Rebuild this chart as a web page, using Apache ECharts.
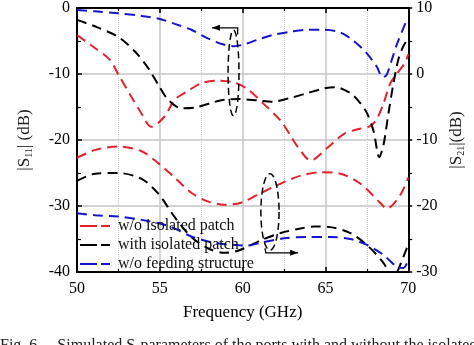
<!DOCTYPE html>
<html><head><meta charset="utf-8">
<script src="https://cdn.jsdelivr.net/npm/echarts@6/dist/echarts.min.js"></script>
<style>html,body{margin:0;padding:0;background:#fff}#c{width:474px;height:345px}</style>
</head><body><div id="c"></div>
<script>
// ---- data ----
const seriesNames = ['w/o isolated patch', 'with isolated patch', 'w/o feeding structure'];
const xTicks = [50, 55, 60, 65, 70];

// |S11| (left axis, dB)
const s11RedF = [50, 51, 52, 52.5, 53.2, 53.8, 54.5, 55.3, 55.9, 56.8, 57.5, 58.5, 59.5, 60.3, 61.3, 62.3, 62.9, 63.4, 64.1, 65.1, 66.1, 66.9, 67.7, 68.1, 68.5, 68.9, 69.3, 69.8, 70];
const s11RedV = [-4.1, -5.9, -7.9, -10.1, -13.1, -15.6, -18, -16.4, -13.9, -12.4, -11.4, -11, -11.3, -12.3, -14.6, -17.1, -19.4, -21.3, -23.1, -21.2, -19.1, -18.4, -17.9, -16.8, -14.5, -11.5, -10, -8.3, -7];
const s11BlackF = [50, 51.2, 52.5, 53.5, 54.3, 54.9, 55.5, 56.3, 57.1, 58.2, 58.9, 59.8, 60.9, 61.8, 62.9, 63.9, 64.9, 65.6, 66.5, 67.1, 67.5, 67.9, 68.25, 68.5, 68.8, 69.1, 69.4, 69.7, 70];
const s11BlackV = [-1.8, -2.9, -4.4, -6.6, -9.1, -11.6, -13.9, -15.2, -15.1, -14.3, -13.9, -13.8, -14, -14.2, -13.6, -12.9, -12.2, -12, -12.9, -14.4, -15.9, -18.6, -22.6, -20.8, -16, -11.5, -7.8, -5.8, -4.6];
const s11BlueF = [50, 51.1, 52.5, 53.9, 54.9, 55.9, 56.9, 57.9, 58.8, 59.5, 60.1, 60.9, 61.8, 62.9, 63.9, 64.9, 65.9, 66.6, 67.4, 68.1, 68.45, 68.7, 69, 69.3, 69.9, 70];
const s11BlueV = [-0.3, -0.5, -0.8, -1.2, -1.6, -2.4, -3.3, -4.6, -5.5, -5.8, -5.5, -4.8, -4.1, -3.6, -3.3, -3.3, -3.7, -4.8, -6.6, -8.9, -10.5, -10.1, -7.9, -5.6, -1.9, -1.6];

// |S21| (right axis, dB)
const s21RedF = [50, 51.1, 52.5, 53.9, 54.9, 55.9, 56.9, 57.9, 58.9, 59.9, 61.05, 62.3, 63.5, 64.7, 65.9, 67.1, 68.3, 68.7, 69.5, 70];
const s21RedV = [-12.7, -11.5, -11, -11.7, -13.5, -15.7, -18, -19.3, -19.8, -19.5, -18.1, -16.6, -15.4, -14.9, -15.1, -16.6, -19.5, -20.4, -18.4, -15.7];
const s21BlackF = [50, 51.1, 52.5, 53.9, 54.9, 55.9, 56.9, 57.9, 58.9, 59.8, 61.1, 62.3, 63.5, 64.3, 65.3, 66.5, 67.5, 68.5, 69.1, 69.4, 70];
const s21BlackV = [-16.2, -15.1, -15, -15.9, -18.1, -21.7, -24.7, -26.4, -27.1, -26.7, -25.2, -24.1, -23.4, -23.1, -23.2, -24.1, -25.9, -28.6, -31, -29.6, -25.8];
const s21BlueF = [50, 51.1, 52.5, 53.9, 55.5, 56.9, 58.3, 59.5, 60.2, 61.2, 62.5, 63.9, 65.3, 66.5, 67.5, 68.5, 69.3, 69.7, 70];
const s21BlueV = [-21.1, -21.4, -21.6, -22.1, -23, -24.6, -25.6, -25.9, -26, -25.5, -24.9, -24.7, -24.7, -25, -25.9, -27.4, -29.2, -29.4, -28.2];

// ---- chart ----
const FONT = 'Liberation Serif';
const RED = '#e3202b', BLACK = '#000000', BLUE = '#1414cc';
const zip = (f, v) => f.map((x, i) => [x, v[i]]);
function mk(name, color, f, v, yAxisIndex) {
  return {
    type: 'line', name, yAxisIndex, data: zip(f, v), symbol: 'none', smooth: 0.3,
    clip: true, color,
    lineStyle: { color, width: 2, type: [10, 6] }, itemStyle: { color }
  };
}
const chart = echarts.init(document.getElementById('c'), null, { renderer: 'canvas' });
const axisLineStyle = { color: '#000', width: 2 };
chart.setOption({
  animation: false,
  backgroundColor: '#fff',
  grid: { left: 77, right: 65, top: 6, bottom: 73 },
  legend: {
    orient: 'vertical', left: 80, top: 218, padding: 0, itemWidth: 30, itemHeight: 2, itemGap: 3,
    icon: 'path://M0,0h17v2h-17z M21,0h9v2h-9z',
    data: seriesNames,
    textStyle: { fontFamily: FONT, fontSize: 16, color: '#111', lineHeight: 16, padding: [0, 0, 0, 3] }
  },
  xAxis: [{
    type: 'value', position: 'bottom', min: xTicks[0], max: xTicks[xTicks.length - 1], interval: 5,
    axisLine: { onZero: false, lineStyle: axisLineStyle },
    axisTick: { inside: true, length: 5, lineStyle: { color: '#000', width: 1.5 } },
    minorTick: { show: true, splitNumber: 2, length: 3, lineStyle: { color: '#000', width: 1.2 } },
    axisLabel: { fontFamily: FONT, fontSize: 16, color: '#000', margin: 9 },
    splitLine: { show: true, lineStyle: { color: '#c4c4c4', width: 1.5 } },
    minorSplitLine: { show: true, lineStyle: { color: '#cfcfcf', width: 1, type: 'dotted' } },
    name: 'Frequency (GHz)', nameLocation: 'middle', nameGap: 32,
    nameTextStyle: { fontFamily: FONT, fontSize: 17, color: '#000' }
  }, {
    type: 'value', position: 'top', min: 50, max: 70, interval: 5,
    axisLine: { onZero: false, lineStyle: axisLineStyle },
    axisTick: { inside: true, length: 5, lineStyle: { color: '#000', width: 1.5 } },
    minorTick: { show: true, splitNumber: 2, length: 3, lineStyle: { color: '#000', width: 1.2 } },
    axisLabel: { show: false }, splitLine: { show: false }
  }],
  yAxis: [{
    type: 'value', position: 'left', min: -40, max: 0, interval: 10,
    axisLine: { show: true, onZero: false, lineStyle: axisLineStyle },
    axisTick: { show: true, inside: true, length: 5, lineStyle: { color: '#000', width: 1.5 } },
    minorTick: { show: true, splitNumber: 2, length: 4, lineStyle: { color: '#000', width: 1.2 } },
    axisLabel: { fontFamily: FONT, fontSize: 16, color: '#000', margin: 7 },
    splitLine: { show: true, lineStyle: { color: '#c4c4c4', width: 1.5 } },
    name: '|S{sub|11}| (dB)', nameLocation: 'middle', nameGap: 43, nameRotate: 90,
    nameTextStyle: { fontFamily: FONT, fontSize: 17, color: '#222',
      rich: { sub: { fontFamily: FONT, fontSize: 10, color: '#222', padding: [8, 0, 0, 0] } } }
  }, {
    type: 'value', position: 'right', min: -30, max: 10, interval: 10,
    axisLine: { show: true, onZero: false, lineStyle: axisLineStyle },
    axisTick: { show: true, inside: false, length: 4, lineStyle: { color: '#000', width: 1.5 } },
    minorTick: { show: true, splitNumber: 2, length: 4, lineStyle: { color: '#000', width: 1.2 } },
    axisLabel: { fontFamily: FONT, fontSize: 16, color: '#000', margin: 8 },
    splitLine: { show: false },
    name: '|S{sub|21}|(dB)', nameLocation: 'middle', nameGap: 30, nameRotate: 90,
    nameTextStyle: { fontFamily: FONT, fontSize: 17, color: '#222',
      rich: { sub: { fontFamily: FONT, fontSize: 10, color: '#222', padding: [8, 0, 0, 0] } } }
  }],
  series: [
    mk(seriesNames[0], RED, s11RedF, s11RedV, 0),
    mk(seriesNames[1], BLACK, s11BlackF, s11BlackV, 0),
    mk(seriesNames[2], BLUE, s11BlueF, s11BlueV, 0),
    mk(seriesNames[0], RED, s21RedF, s21RedV, 1),
    mk(seriesNames[1], BLACK, s21BlackF, s21BlackV, 1),
    mk(seriesNames[2], BLUE, s21BlueF, s21BlueV, 1)
  ]
});

// ---- annotations (ellipses + arrows), positioned through the axes ----
function px(f, v, yi) { return chart.convertToPixel({ xAxisIndex: 0, yAxisIndex: yi }, [f, v]); }
function ellipse(cf, cv, rf, rv, yi) {
  const c = px(cf, cv, yi), e = px(cf + rf, cv + rv, yi);
  const rx = Math.abs(e[0] - c[0]), ry = Math.abs(e[1] - c[1]);
  const pts = [];
  for (let i = 0; i < 60; i++) { const a = i / 60 * Math.PI * 2; pts.push([c[0] + rx * Math.cos(a), c[1] + ry * Math.sin(a)]); }
  return { type: 'polygon', shape: { points: pts }, style: { fill: 'none', stroke: '#000', lineWidth: 1.5, lineDash: [7, 4] }, z: 20 };
}
function arrow(points, dir) {
  const end = points[points.length - 1];
  const head = dir < 0
    ? [[end[0], end[1]], [end[0] + 8, end[1] - 3], [end[0] + 8, end[1] + 3]]
    : [[end[0], end[1]], [end[0] - 8, end[1] - 3], [end[0] - 8, end[1] + 3]];
  return [
    { type: 'polyline', shape: { points }, style: { stroke: '#000', lineWidth: 1.3, fill: 'none' }, z: 20 },
    { type: 'polygon', shape: { points: head }, style: { fill: '#000' }, z: 20 }
  ];
}
const g = [];
g.push(ellipse(59.45, -9.85, 0.33, 6.5, 0));
g.push(...arrow([px(59.7, -4.0, 0), px(59.7, -3.0, 0), px(58.15, -3.0, 0)], -1));
g.push(ellipse(61.65, -20.9, 0.55, 5.8, 1));
g.push(...arrow([px(61.35, -26.4, 1), px(61.4, -27.1, 1), px(63.35, -27.1, 1)], 1));
g.push({ type: 'text', left: 0, top: 338, z: 30,
  style: { text: 'Fig. 6.    Simulated S-parameters of the ports with and without the isolated',
    fontFamily: FONT, fontSize: 16, fill: '#222' } });
chart.setOption({ graphic: g });
</script>
</body></html>
